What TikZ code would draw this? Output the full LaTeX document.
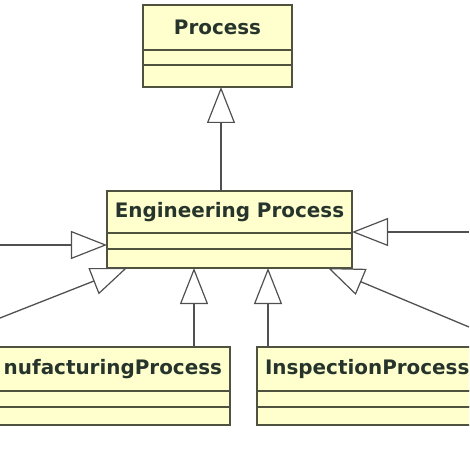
\documentclass[tikz,border=0pt]{standalone}
\usepackage{fontspec}
\setmainfont{DejaVu Sans}
\usetikzlibrary{arrows.meta, positioning}
\definecolor{boxfill}{RGB}{255,255,206}
\definecolor{boxline}{RGB}{78,82,62}
\definecolor{boxtext}{RGB}{38,52,44}
\definecolor{arrowline}{RGB}{80,80,80}
\tikzset{
    namebox/.style = {draw = boxline, fill = boxfill, line width = 1.8bp, outer sep = 0pt, inner sep = 0pt, text = boxtext, font = \fontsize{20}{24}\selectfont\bfseries},
    compbox/.style = {draw = boxline, fill = boxfill, line width = 1.6bp, outer sep = 0pt, inner sep = 0pt},
    gen/.style = {draw = arrowline, line width = 1.3bp, -{Triangle[open, length = 36bp, width = 28bp, line width = 1.2bp]}}
}
\begin{document}
\begin{tikzpicture}[x = 1bp, y = -1bp]
        \path[use as bounding box, clip] (0,0) rectangle (469,469);
        % classes
        \node[namebox, minimum width = 149bp, minimum height = 45bp] (process) at (217.5,27.5) {Process};
        \node[compbox, minimum width = 149bp, minimum height = 15bp, below = 0pt of process] (processA) {};
        \node[compbox, minimum width = 149bp, minimum height = 22bp, below = 0pt of processA] (processB) {};
        \node[namebox, minimum width = 245bp, minimum height = 42bp] (eng) at (229.5,212) {Engineering Process};
        \node[compbox, minimum width = 245bp, minimum height = 16bp, below = 0pt of eng] (engA) {};
        \node[compbox, minimum width = 245bp, minimum height = 19bp, below = 0pt of engA] (engB) {};
        \node[namebox, minimum width = 250bp, minimum height = 44bp, text width = 234bp, align = right] (manu) at (105,369) {nufacturingProcess};
        \node[compbox, minimum width = 250bp, minimum height = 16bp, below = 0pt of manu] (manuA) {};
        \node[compbox, minimum width = 250bp, minimum height = 18bp, below = 0pt of manuA] (manuB) {};
        \node[namebox, minimum width = 250bp, minimum height = 44bp, text width = 234bp, align = left] (insp) at (382,369) {InspectionProcess};
        \node[compbox, minimum width = 250bp, minimum height = 16bp, below = 0pt of insp] (inspA) {};
        \node[compbox, minimum width = 250bp, minimum height = 18bp, below = 0pt of inspA] (inspB) {};
        % generalizations
        \coordinate (west) at (0,245);
        \coordinate (east) at (469,232);
        \coordinate (southwest) at (0,318);
        \coordinate (southeast) at (469,327);
        \draw[gen] (eng.north -| 221,0) -- (processB.south -| 221,0);
        \draw[gen] (west) -- (west -| eng.west);
        \draw[gen] (east) -- (east -| eng.east);
        \draw[gen] (manu.north -| 194,0) -- (engB.south -| 194,0);
        \draw[gen] (insp.north -| 268,0) -- (engB.south -| 268,0);
        \draw[gen] (southwest) -- (engB.south -| 127,0);
        \draw[gen] (southeast) -- (engB.south -| 328,0);
\end{tikzpicture}
\end{document}
